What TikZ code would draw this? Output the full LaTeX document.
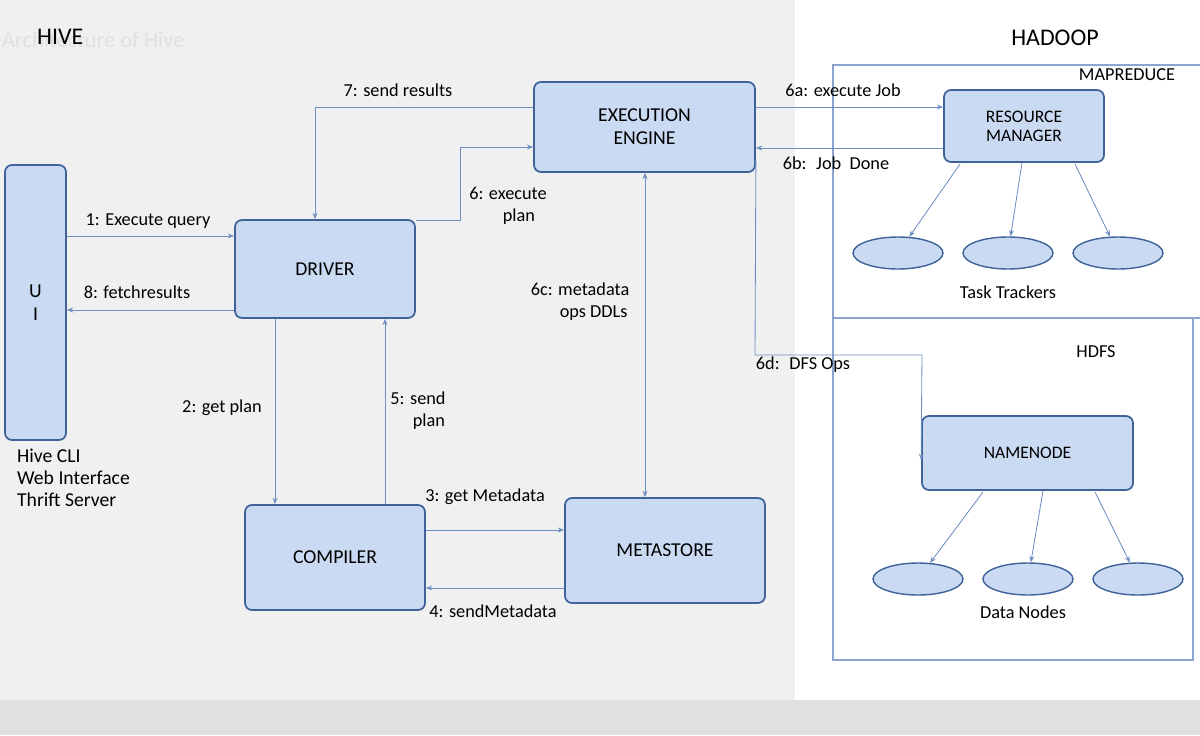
\documentclass[tikz,border=0pt]{standalone}
\usepackage{fontspec}
\setmainfont{Carlito}
\usetikzlibrary{shapes.geometric,arrows.meta}
\definecolor{boxfill}{HTML}{C9DAF2}
\definecolor{boxline}{HTML}{3F6299}
\definecolor{arr}{HTML}{6F8FC4}
\definecolor{bg}{HTML}{F0F0F0}
\begin{document}
\begin{tikzpicture}[x=0.05cm,y=-0.05cm,
  box/.style={draw=boxline,line width=2.5pt,fill=boxfill,rounded corners=10pt,inner sep=0pt,font=\fontsize{28}{33}\selectfont},
  ell/.style={ellipse,draw=boxline,line width=2pt,fill=boxfill,minimum width=90*0.05cm,minimum height=32*0.05cm,inner sep=0pt},
  con/.style={draw=arr,line width=1.2pt,-{Stealth[length=9pt,width=7pt]}},
  lbl/.style={font=\fontsize{26}{31}\selectfont,align=center,inner sep=0pt},
  area/.style={draw=arr!80,line width=1.5pt}]
  \useasboundingbox (0,0) rectangle (1200,735);
  \fill[white] (0,0) rectangle (1200,735);
  \fill[bg] (0,0) rectangle (795,700);
  \fill[black!12] (0,700) rectangle (1200,735);

  % Hadoop areas
  \draw[area] (1200,65) -- (833,65) -- (833,660) -- (1193,660) -- (1193,318);
  \draw[area] (833,318) -- (1200,318);

  % Titles
  \node[lbl,text=black!12,anchor=west,font=\fontsize{32}{36}\selectfont] at (2,40) {Architecture of Hive};
  \node[lbl,anchor=west,font=\fontsize{34}{38}\selectfont] at (37,37) {HIVE};
  \node[lbl,font=\fontsize{34}{38}\selectfont] at (1055,38) {HADOOP};
  \node[lbl] at (1127,75) {MAPREDUCE};
  \node[lbl] at (1096,352) {HDFS};

  % Boxes
  \node[box,minimum width=61*0.05cm,minimum height=275*0.05cm,align=center] (ui) at (35.5,302.5) {U\\I};
  \node[box,minimum width=180*0.05cm,minimum height=98*0.05cm] (drv) at (325,269) {DRIVER};
  \node[box,minimum width=221*0.05cm,minimum height=90*0.05cm,align=center] (ee) at (644.5,127) {EXECUTION\\ENGINE};
  \node[box,minimum width=180*0.05cm,minimum height=105*0.05cm] (cmp) at (335,557.5) {COMPILER};
  \node[box,minimum width=200*0.05cm,minimum height=105*0.05cm] (ms) at (665,550.5) {METASTORE};
  \node[box,minimum width=160*0.05cm,minimum height=72*0.05cm,align=center,font=\fontsize{25}{27}\selectfont] (rm) at (1024,126) {RESOURCE\\MANAGER};
  \node[box,minimum width=211*0.05cm,minimum height=74*0.05cm,font=\fontsize{25}{29}\selectfont] (nn) at (1027.5,453) {NAMENODE};

  \node[ell] (t1) at (898,253) {};
  \node[ell] (t2) at (1008,253) {};
  \node[ell] (t3) at (1118,253) {};
  \node[ell] (d1) at (918,579) {};
  \node[ell] (d2) at (1028,579) {};
  \node[ell] (d3) at (1138,579) {};
  \node[lbl] at (1008,292) {Task Trackers};
  \node[lbl] at (1023,612) {Data Nodes};
  \node[lbl,align=left,anchor=north west,font=\fontsize{28}{31}\selectfont] at (17,449) {Hive CLI\\ Web Interface\\Thrift Server};

  % Connectors
  \draw[con] (ui.east |- 0,236) -- (drv.west |- 0,236);
  \draw[con] (drv.west |- 0,310) -- (ui.east |- 0,310);
  \draw[con] (drv.south -| 275,0) -- (cmp.north -| 275,0);
  \draw[con] (cmp.north -| 385,0) -- (drv.south -| 385,0);
  \draw[con] (cmp.east |- 0,530) -- (ms.west |- 0,530);
  \draw[con] (ms.west |- 0,588) -- (cmp.east |- 0,588);
  \draw[con] (drv.east |- 0,220) -- (460,220) -- (460,147) -- (ee.west |- 0,147);
  \draw[con] (ee.west |- 0,107) -- (315,107) -- (drv.north -| 315,0);
  \draw[con,{Stealth[length=9pt,width=7pt]}-{Stealth[length=9pt,width=7pt]}] (ee.south -| 645,0) -- (ms.north -| 645,0);
  \draw[con] (ee.east |- 0,107) -- (rm.west |- 0,107);
  \draw[con] (rm.west |- 0,148) -- (ee.east |- 0,148);
  \draw[con] (ee.east |- 0,160) -- (755,355) -- (922,355) -- (nn.west |- 0,460);
  \draw[con] (960,164) -- (t1);
  \draw[con] (rm.south -| 1022,0) -- (t2);
  \draw[con] (1075,164) -- (t3);
  \draw[con] (983,492) -- (d1);
  \draw[con] (nn.south -| 1043,0) -- (d2);
  \draw[con] (1095,492) -- (d3);

  % Connector labels
  \node[lbl] at (148,221) {1: Execute query};
  \node[lbl] at (137,292) {8: fetchresults};
  \node[lbl] at (222,408) {2: get plan};
  \node[lbl] at (418,411) {5: send\\\hspace*{1.2em}plan};
  \node[lbl] at (485,497) {3: get Metadata};
  \node[lbl] at (493,611) {4: sendMetadata};
  \node[lbl] at (508,206) {6: execute\\\hspace*{1.2em}plan};
  \node[lbl] at (398,90) {7: send results};
  \node[lbl] at (580,302) {6c: metadata\\\hspace*{1.5em}ops DDLs};
  \node[lbl] at (843,90) {6a: execute Job};
  \node[lbl] at (836,163) {6b: \ Job \ Done};
  \node[lbl] at (803,365) {6d: \ DFS Ops};
\end{tikzpicture}
\end{document}
